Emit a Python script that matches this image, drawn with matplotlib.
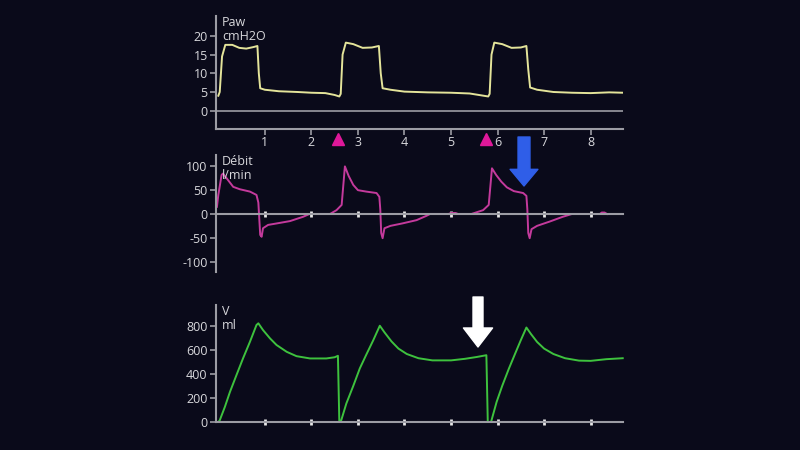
import numpy as np
import matplotlib
matplotlib.use("Agg")
import matplotlib.pyplot as plt

plt.rcParams['font.family'] = ['Open Sans', 'DejaVu Sans']
plt.rcParams['axes.unicode_minus'] = False

# --- donnees ---
t_paw = [0.0, 0.03, 0.08, 0.15, 0.3, 0.45, 0.6, 0.75, 0.84, 0.87, 0.9, 1.0, 1.3, 1.7, 2.0, 2.3, 2.5, 2.6,
         2.63, 2.67, 2.74, 2.9, 3.1, 3.3, 3.45, 3.49, 3.53, 3.7, 4.0, 4.5, 5.0, 5.4, 5.7, 5.8,
         5.83, 5.87, 5.93, 6.1, 6.3, 6.5, 6.62, 6.66, 6.7, 6.85, 7.2, 7.6, 8.0, 8.4, 8.7]
paw = [4.0, 5.0, 14.5, 17.6, 17.6, 16.8, 16.6, 17.0, 17.3, 10.0, 6.0, 5.6, 5.2, 5.0, 4.8, 4.7, 4.2, 3.8,
       4.5, 15.0, 18.2, 17.8, 16.8, 16.9, 17.3, 10.0, 6.0, 5.6, 5.1, 4.9, 4.8, 4.6, 4.0, 3.8,
       4.5, 15.0, 18.2, 17.8, 16.8, 16.9, 17.3, 11.0, 6.2, 5.6, 5.0, 4.8, 4.7, 4.9, 4.8]

t_deb = [-0.03, 0.0, 0.07, 0.1, 0.21, 0.32, 0.46, 0.68, 0.82, 0.86, 0.88, 0.9, 0.93, 0.96, 1.07, 1.25,
         1.54, 1.82, 1.96,
         2.4, 2.54, 2.65, 2.72, 2.8, 2.9, 3.0, 3.18, 3.4, 3.46, 3.48, 3.5, 3.53, 3.57, 3.7, 3.95, 4.26, 4.47, 4.55,
         4.95, 5.0, 5.1, 5.15,
         5.44, 5.69, 5.81, 5.88, 5.97, 6.08, 6.2, 6.35, 6.55, 6.62, 6.64, 6.66, 6.69, 6.73, 6.85, 7.12, 7.4, 7.6,
         8.2, 8.24, 8.3, 8.35]
debit = [15, 40, 82, 85, 71, 57, 52, 47, 40, 24, -10, -44, -48, -30, -23, -20,
         -15, -6, 0,
         0, 8, 19, 100, 80, 61, 50, 47, 44, 36, 10, -40, -51, -30, -25, -20, -13, -4, 0,
         0, 2, 2, 0,
         0, 8, 19, 96, 82, 68, 56, 48, 44, 38, 10, -40, -51, -32, -25, -16, -6, 0,
         0, 3, 3, 0]

t_vol = [-0.04, 0.0, 0.03, 0.14, 0.25, 0.39, 0.53, 0.68, 0.82, 0.86, 0.96, 1.11, 1.25, 1.47, 1.68, 1.97,
         2.32, 2.5, 2.57, 2.6, 2.63,
         2.75, 2.9, 3.04, 3.18, 3.33, 3.47, 3.57, 3.72, 3.87, 4.05, 4.3, 4.6, 5.0, 5.3, 5.55, 5.76, 5.79, 5.86,
         5.98, 6.1, 6.24, 6.38, 6.5, 6.62, 6.72, 6.85, 7.0, 7.2, 7.45, 7.75, 8.0, 8.34, 8.69]
vol = [0, 0, 14, 125, 250, 390, 528, 667, 806, 820, 764, 695, 640, 583, 547, 528,
       528, 538, 550, 0, 0,
       153, 300, 445, 560, 680, 800, 745, 670, 610, 565, 530, 512, 512, 525, 540, 555, 0, 0,
       167, 300, 440, 570, 680, 785, 730, 665, 610, 565, 530, 510, 508, 522, 530]

declenchements = [2.57, 5.76]
x_ticks = [1, 2, 3, 4, 5, 6, 7, 8]

fond = '#0a0a1a'
gris = '#9c9ca4'
txt = '#d8d8dc'

fig = plt.figure(figsize=(8, 4.5), dpi=100, facecolor=fond)

def style(ax):
    ax.set_facecolor(fond)
    for s in ['top', 'right']:
        ax.spines[s].set_visible(False)
    ax.spines['left'].set_color(gris)
    ax.spines['left'].set_linewidth(1.5)
    ax.spines['bottom'].set_color(gris)
    ax.spines['bottom'].set_linewidth(1.5)
    ax.tick_params(axis='y', colors=gris, labelcolor=txt, labelsize=9, length=4, width=1.2, pad=2)
    ax.set_xlim(-0.05, 8.7)

# Paw
ax1 = fig.add_axes([0.27, 0.7133, 0.509, 0.251])
style(ax1)
ax1.plot(t_paw, paw, color='#e4e49a', lw=1.4)
ax1.axhline(0, color=gris, lw=1.2)
ax1.set_ylim(-4.9, 25.3)
ax1.set_yticks([0, 5, 10, 15, 20])
ax1.set_xticks(x_ticks)
ax1.tick_params(axis='x', colors=gris, labelcolor=txt, labelsize=9, length=4, width=1.2, pad=1)
ax1.plot(declenchements, [-7.6] * len(declenchements), marker='^', ls='none', color='#e0189a',
         markersize=8, clip_on=False)
ax1.text(0.015, 1.0, 'Paw\ncmH2O', transform=ax1.transAxes, va='top', ha='left',
         color=txt, fontsize=9, linespacing=1.1)

# Debit
ax2 = fig.add_axes([0.27, 0.3956, 0.509, 0.26])
style(ax2)
ax2.plot(t_deb, debit, color='#c43a9c', lw=1.4)
ax2.set_ylim(-122, 124)
ax2.set_yticks([-100, -50, 0, 50, 100])
ax2.spines['bottom'].set_position(('data', 0))
ax2.set_xticks(x_ticks)
ax2.set_xticklabels([])
ax2.tick_params(axis='x', colors='#e8e8e8', length=4, width=2, direction='inout')
ax2.text(0.015, 1.0, 'Débit\nl/min', transform=ax2.transAxes, va='top', ha='left',
         color=txt, fontsize=9, linespacing=1.1)

# Volume
ax3 = fig.add_axes([0.27, 0.0622, 0.509, 0.26])
style(ax3)
ax3.plot(t_vol, vol, color='#3ec23e', lw=1.4, clip_on=False)
ax3.set_ylim(0, 972)
ax3.set_yticks([0, 200, 400, 600, 800])
ax3.set_xticks(x_ticks)
ax3.set_xticklabels([])
ax3.tick_params(axis='x', colors='#e8e8e8', length=4, width=2, direction='inout')
ax3.text(0.015, 1.0, 'V\nml', transform=ax3.transAxes, va='top', ha='left',
         color=txt, fontsize=9, linespacing=1.1)

# fleches
ax2.annotate('', xy=(524, 264), xytext=(524, 313), xycoords='figure pixels',
             textcoords='figure pixels',
             arrowprops=dict(arrowstyle='simple,tail_width=0.86,head_width=2.0,head_length=1.2',
                             mutation_scale=10, color='#2f5ee8', shrinkA=0, shrinkB=0))
ax3.annotate('', xy=(478, 103), xytext=(478, 153), xycoords='figure pixels',
             textcoords='figure pixels',
             arrowprops=dict(arrowstyle='simple,tail_width=0.72,head_width=2.1,head_length=1.37',
                             mutation_scale=10, color='white', shrinkA=0, shrinkB=0))

fig.savefig('out.png', dpi=100, facecolor=fond)
